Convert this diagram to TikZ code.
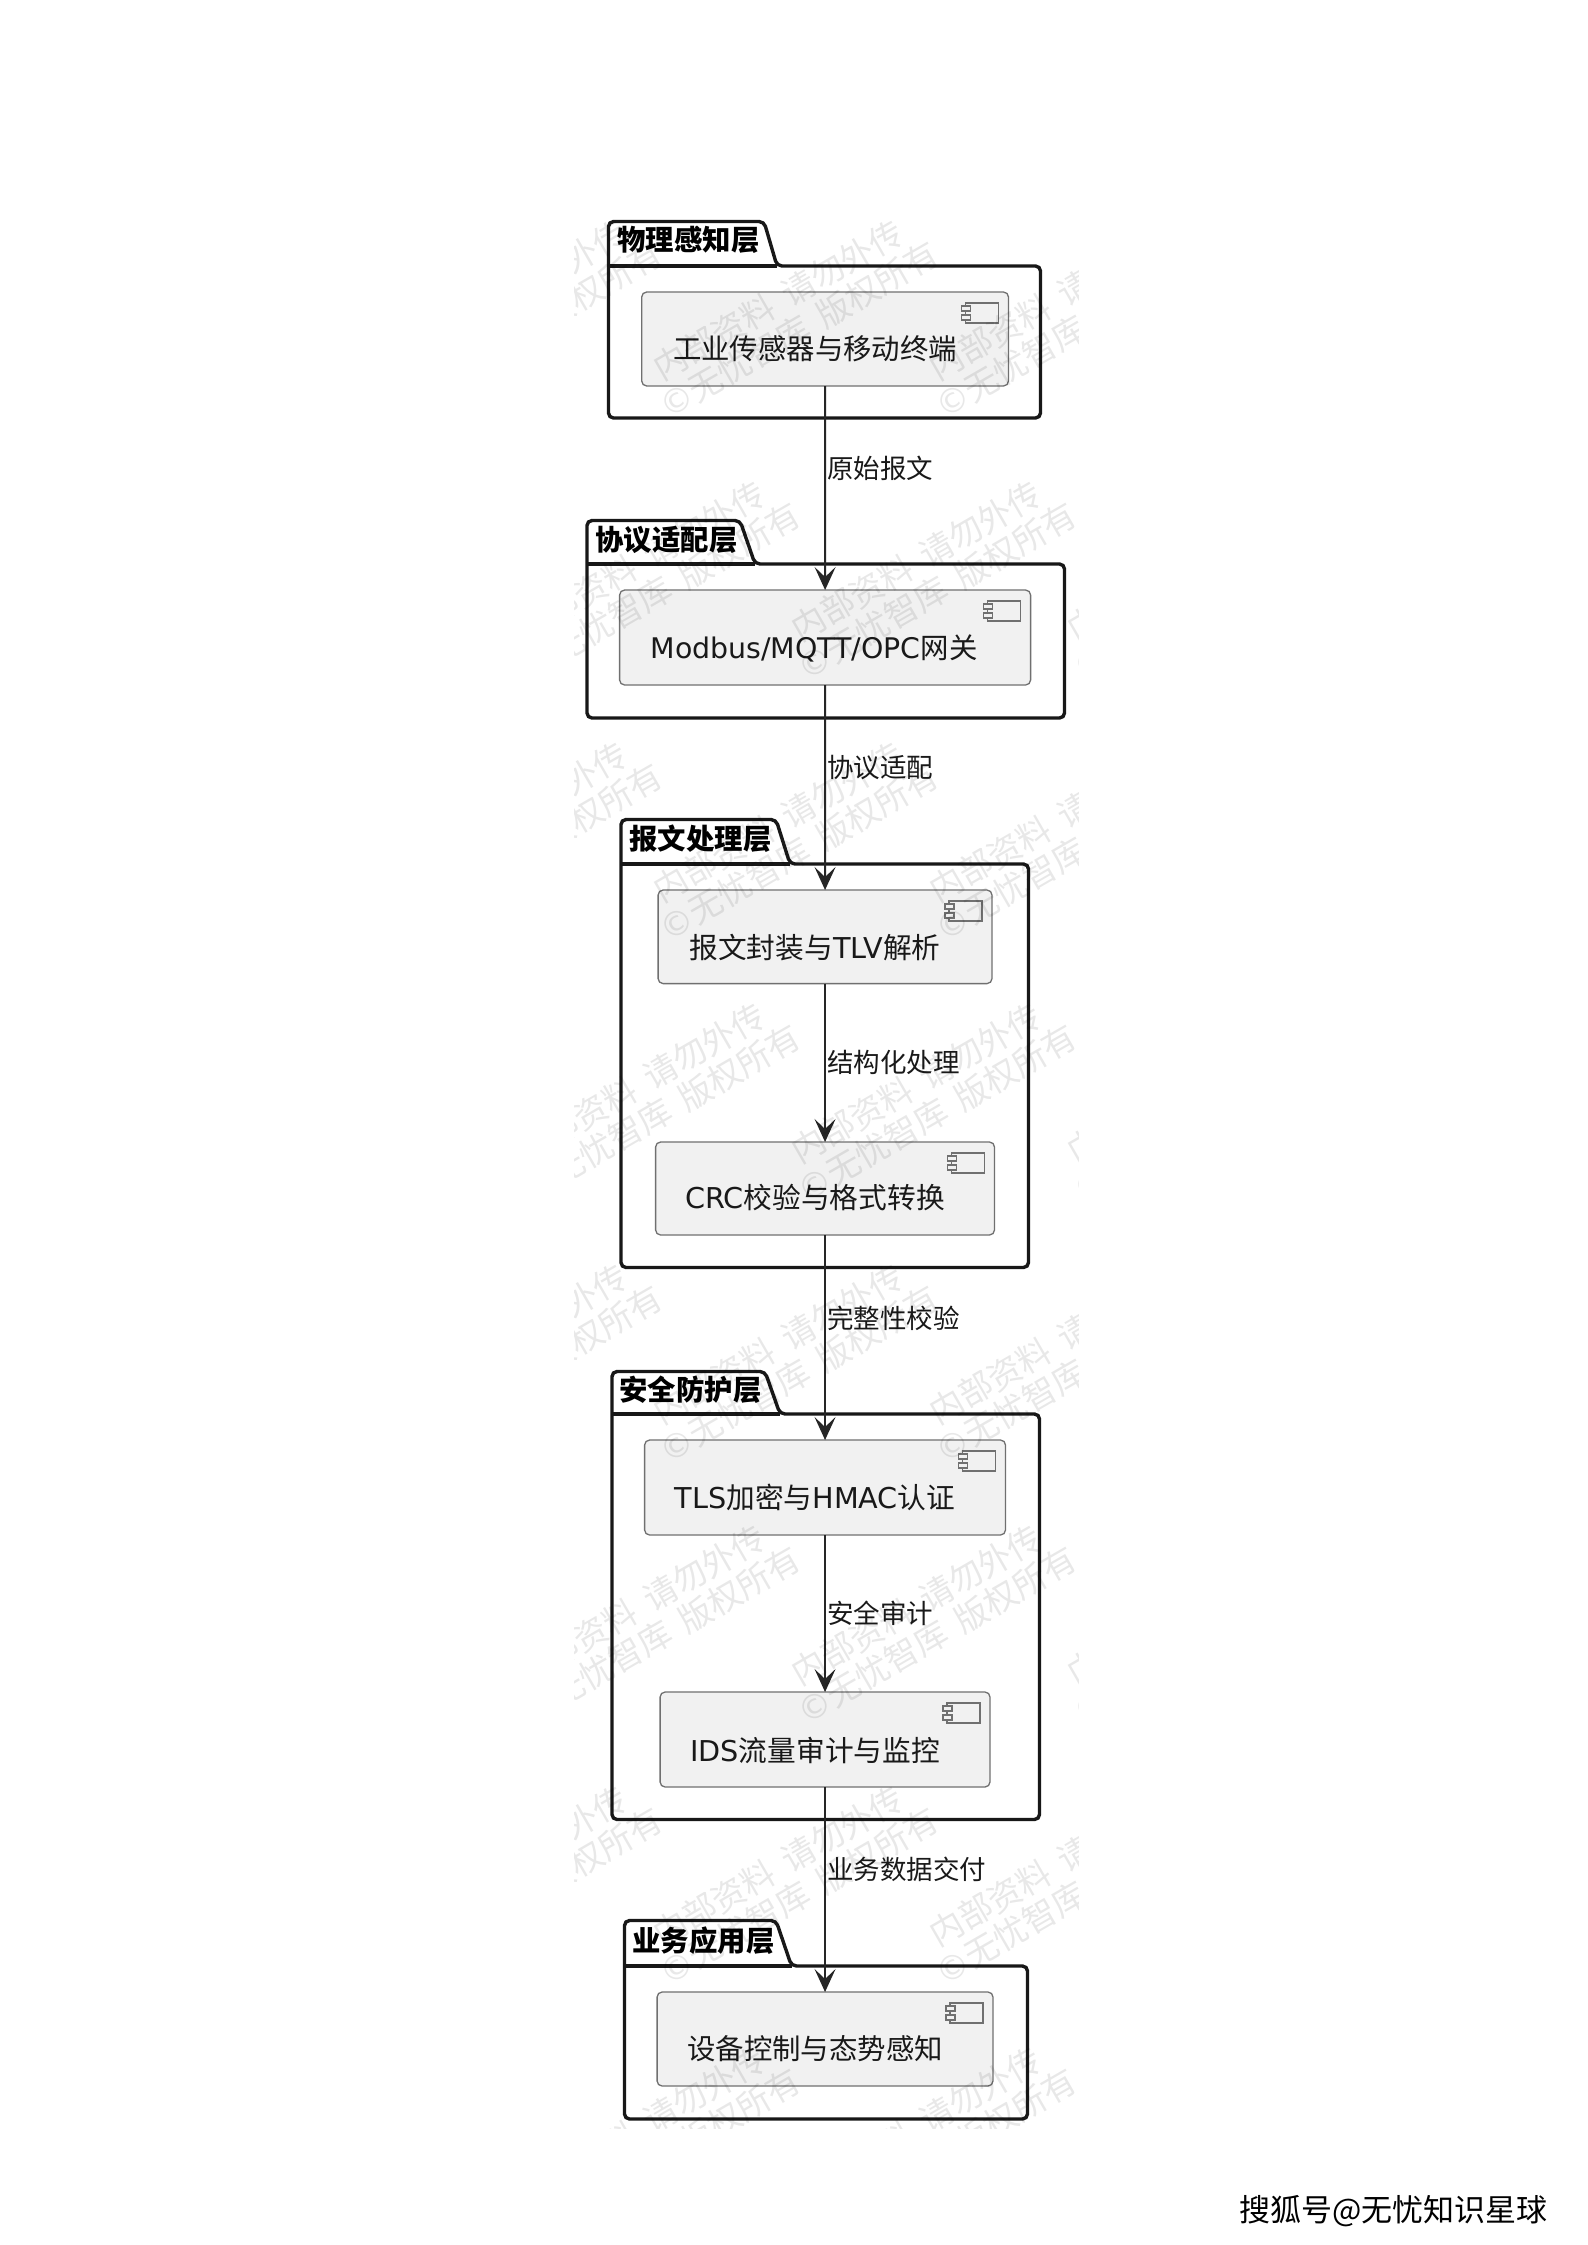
\documentclass[tikz,border=0pt]{standalone}
\usepackage{fontspec}
\setmainfont{DejaVu Sans}
\newfontfamily\cjk{Noto Sans CJK SC}
\usetikzlibrary{arrows.meta}
\definecolor{pkgline}{HTML}{181818}
\definecolor{compline}{HTML}{707070}
\definecolor{compfill}{HTML}{F1F1F1}
\tikzset{
  x=.5pt,y=-.5pt,
  pkgbox/.style={draw=pkgline,line width=1.7pt,rounded corners=2.5pt,fill=white},
  pkgtitle/.style={anchor=west,inner sep=0pt,font=\cjk\bfseries\fontsize{14.2}{16}\selectfont,text=black},
  compbox/.style={draw=compline,line width=.65pt,fill=compfill,rounded corners=2.5pt,inner sep=0pt,outer sep=0pt},
  complabel/.style={inner sep=0pt,font=\fontsize{14.2}{16}\selectfont,text=black!90},
  complabelmix/.style={complabel,font=\fontsize{14.35}{16}\selectfont},
  iconpart/.style={draw=compline,line width=.55pt,fill=compfill},
  flow/.style={draw=black!85,line width=.95pt,-{Stealth[length=11.5pt,width=10.5pt,inset=5pt]}},
  flowlabel/.style={anchor=west,inner sep=0pt,font=\cjk\fontsize{13.25}{15}\selectfont,text=black!90},
  wmark/.style={rotate=30,inner sep=0pt,font=\cjk\fontsize{16.8}{19}\selectfont,text=black,text opacity=.09},
  footer/.style={anchor=west,inner sep=0pt,font=\cjk\fontsize{15.5}{18}\selectfont,text=black}
}
\newcommand{\pkgshape}[8]{%
  \draw[pkgbox] (#2,#5) -- (#2,#6) -- (#7,#6) -- (#8,#4) -- (#3,#4) -- (#3,#5) -- cycle;
  \draw[draw=pkgline,line width=1.7pt] (#2,#4) -- (#8,#4);
}
\newcommand{\compshape}[5]{%
  \node[compbox,minimum width={(#3-#2)*0.5},minimum height={(#5-#4)*0.5}] (#1) at ({(#2+#3)/2},{(#4+#5)/2}) {};
  \draw[iconpart] ({#3-43},{#4+11}) rectangle ({#3-10},{#4+31});
  \draw[iconpart] ({#3-47},{#4+14}) rectangle ({#3-38},{#4+19});
  \draw[iconpart] ({#3-47},{#4+23}) rectangle ({#3-38},{#4+28});
}
\begin{document}
\begin{tikzpicture}
\useasboundingbox[fill=white] (0,0) rectangle (1587,2245);

% Packages
\pkgshape{p1}{608.5}{1040.5}{266}{418}{221.5}{764}{777}
\node[pkgtitle] (t1) at (617,239.5) {物理感知层};
\pkgshape{p2}{587}{1064.5}{564}{718}{520.5}{740}{755}
\node[pkgtitle] (t2) at (595,539.5) {协议适配层};
\pkgshape{p3}{621}{1028.5}{864}{1267.5}{819.5}{776}{790}
\node[pkgtitle] (t3) at (629,838.5) {报文处理层};
\pkgshape{p4}{612}{1039.5}{1414}{1819.5}{1371.5}{765}{780}
\node[pkgtitle] (t4) at (619,1389.5) {安全防护层};
\pkgshape{p5}{624.5}{1027.5}{1966}{2119}{1920.5}{776}{791.5}
\node[pkgtitle] (t5) at (632,1940.5) {业务应用层};

% Components (all centred on the connector axis)
\compshape{c1}{641.7}{1008.5}{292}{386}
\node[complabel] (l1) at (815,349) {\cjk 工业传感器与移动终端};
\compshape{c2}{619.6}{1030.6}{590}{685}
\node[complabel] (l2) at (814,648) {Modbus/MQTT/OPC{\cjk 网关}};
\compshape{c3}{658.1}{992}{890}{983.6}
\node[complabelmix] (l3) at (815,947.5) {{\cjk 报文封装与}TLV{\cjk 解析}};
\compshape{c4}{655.6}{994.5}{1142}{1235}
\node[complabelmix] (l4) at (815,1198) {CRC{\cjk 校验与格式转换}};
\compshape{c5}{644.6}{1005.5}{1440}{1535}
\node[complabelmix] (l5) at (815,1497.5) {TLS{\cjk 加密与}HMAC{\cjk 认证}};
\compshape{c6}{660.1}{990}{1692}{1787}
\node[complabelmix] (l6) at (815,1750) {IDS{\cjk 流量审计与监控}};
\compshape{c7}{657.1}{993}{1992}{2086}
\node[complabel] (l7) at (815,2048.5) {\cjk 设备控制与态势感知};

% Connectors
\draw[flow] (c1.south) -- (c2.north);
\draw[flow] (c2.south) -- (c3.north);
\draw[flow] (c3.south) -- (c4.north);
\draw[flow] (c4.south) -- (c5.north);
\draw[flow] (c5.south) -- (c6.north);
\draw[flow] (c6.south) -- (c7.north);
\node[flowlabel] (e1) at (827,468.5) {原始报文};
\node[flowlabel] (e2) at (827,768) {协议适配};
\node[flowlabel] (e3) at (827,1062) {结构化处理};
\node[flowlabel] (e4) at (827,1318) {完整性校验};
\node[flowlabel] (e5) at (827,1613.5) {安全审计};
\node[flowlabel] (e6) at (827,1869) {业务数据交付};

% Watermark
\begin{scope}
\clip (574.5,215) rectangle (1078,2128);
\foreach \j in {-5,...,2}{
  \foreach \i in {-6,...,6}{
    \pgfmathsetmacro\wx{916.5+276*\i+138*\j}
    \ifdim\wx pt<1225pt\ifdim\wx pt>425pt
      \node[wmark] (wa\i\j) at (\wx,{1605+261*\j}) {内部资料\hspace{.4em}请勿外传};
      \node[wmark,font=\fontsize{16.8}{19}\selectfont] (wb\i\j) at (\wx+20,{1635+261*\j}) {©{\cjk 无忧智库\hspace{.4em}版权所有}};
    \fi\fi
  }
}
\end{scope}

\node[footer] (f) at (1239,2211) {搜狐号@无忧知识星球};
\end{tikzpicture}
\end{document}
